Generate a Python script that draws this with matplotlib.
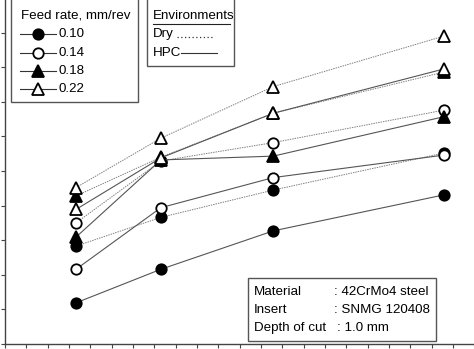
import matplotlib
matplotlib.use("Agg")
import matplotlib.pyplot as plt
import matplotlib.transforms as mtrans
from matplotlib.lines import Line2D
from matplotlib.patches import Rectangle

plt.rcParams['font.family'] = ['Liberation Sans', 'DejaVu Sans']

# x positions of the four test conditions (in axis tick units)
x_vals = [3.33, 7.31, 12.58, 20.58]

feeds = ["0.10", "0.14", "0.18", "0.22"]
markers = {"0.10": ("o", "black"), "0.14": ("o", "white"),
           "0.18": ("^", "black"), "0.22": ("^", "white")}

hpc = {
    "0.10": [1.19, 2.16, 3.27, 4.31],
    "0.14": [2.16, 3.94, 4.81, 5.46],
    "0.18": [3.09, 5.32, 5.43, 6.57],
    "0.22": [3.89, 5.38, 6.67, 7.95],
}
dry = {
    "0.10": [2.83, 3.66, 4.45, 5.52],
    "0.14": [3.50, 5.29, 5.82, 6.76],
    "0.18": [4.28, 5.40, 6.67, 7.86],
    "0.22": [4.52, 5.95, 7.44, 8.90],
}

W, H = 474, 349
fig = plt.figure(figsize=(W / 100, H / 100), dpi=100)

# axes extends beyond the cropped picture on top and right
ax_w_px, ax_h_px = 600, 420
ax = fig.add_axes([5 / W, 5 / H, ax_w_px / W, ax_h_px / H])
x_unit = 21.33
y_unit = 34.6
ax.set_xlim(0, ax_w_px / x_unit)
ax.set_ylim(0, ax_h_px / y_unit)

spine_col = "#444444"
for s in ["top", "right"]:
    ax.spines[s].set_visible(False)
for s in ["left", "bottom"]:
    ax.spines[s].set_color(spine_col)
    ax.spines[s].set_linewidth(1.0)
ax.set_xticks(range(0, 28))
ax.set_yticks(range(0, 13))
ax.tick_params(direction="out", length=3, width=0.8, color=spine_col,
               labelbottom=False, labelleft=False)

line_col = "#555555"
dry_col = "#808080"
for f in feeds:
    m, fc = markers[f]
    ms = 7.5 if m == "o" else 8
    ax.plot(x_vals, dry[f], color=dry_col, lw=0.7, ls=(0, (1.5, 1)),
            marker=m, ms=ms, mfc=fc, mec="black", mew=1.3, zorder=3)
for f in feeds:
    m, fc = markers[f]
    ms = 7.5 if m == "o" else 8
    ax.plot(x_vals, hpc[f], color=line_col, lw=0.8, ls="-",
            marker=m, ms=ms, mfc=fc, mec="black", mew=1.3, zorder=4)

# pixel transform (origin top-left)
px = mtrans.Affine2D().scale(1 / W, -1 / H).translate(0, 1) + fig.transFigure
fs = 9.6
box_col = "#555555"

# Feed rate legend box
fig.patches.append(Rectangle((11, -5), 127, 107, transform=px, fill=True,
                             fc="white", ec=box_col, lw=1.0, zorder=5))
fig.text(21, 16, "Feed rate, mm/rev", transform=px, fontsize=fs,
         va="center", ha="left", zorder=6)
leg_y = [34, 53, 71, 89]
for f, yy in zip(feeds, leg_y):
    m, fc = markers[f]
    fig.lines.append(Line2D([20, 56], [yy, yy], transform=px, color="#333333",
                            lw=0.8, zorder=6))
    fig.lines.append(Line2D([37.7], [yy], transform=px, marker=m,
                            ms=7.5 if m == "o" else 8, mfc=fc, mec="black",
                            mew=1.3, ls="none", zorder=7))
    fig.text(59, yy, f, transform=px, fontsize=fs, va="center", ha="left",
             zorder=6)

# Environments box
fig.patches.append(Rectangle((147, -5), 87, 71, transform=px, fill=True,
                             fc="white", ec=box_col, lw=1.0, zorder=5))
fig.text(153, 16, "Environments", transform=px, fontsize=fs, va="center",
         ha="left", zorder=6)
fig.lines.append(Line2D([153, 230], [23.5, 23.5], transform=px,
                        color="#222222", lw=0.8, zorder=6))
fig.text(153, 33.5, "Dry", transform=px, fontsize=fs, va="center",
         ha="left", zorder=6)
fig.lines.append(Line2D([177, 212], [37, 37], transform=px, color="#333333",
                        lw=0.9, ls=(0, (1, 2)), zorder=6))
fig.text(153, 53, "HPC", transform=px, fontsize=fs, va="center",
         ha="left", zorder=6)
fig.lines.append(Line2D([181, 217], [53, 53], transform=px, color="#333333",
                        lw=0.8, zorder=6))

# Material info box
fig.patches.append(Rectangle((248.3, 277.7), 187.4, 63, transform=px,
                             fill=True, fc="white", ec=box_col, lw=1.0,
                             zorder=5))
info_labels = ["Material", "Insert", "Depth of cut"]
info_values = [": 42CrMo4 steel", ": SNMG 120408", ": 1.0 mm"]
info_y = [292.3, 310, 327.7]
info_vx = [334.3, 334.3, 336.7]
for lab, val, yy, vx in zip(info_labels, info_values, info_y, info_vx):
    fig.text(254, yy, lab, transform=px, fontsize=fs, va="center",
             ha="left", zorder=6)
    fig.text(vx, yy, val, transform=px, fontsize=fs, va="center",
             ha="left", zorder=6)

fig.savefig("out.png", dpi=100)
